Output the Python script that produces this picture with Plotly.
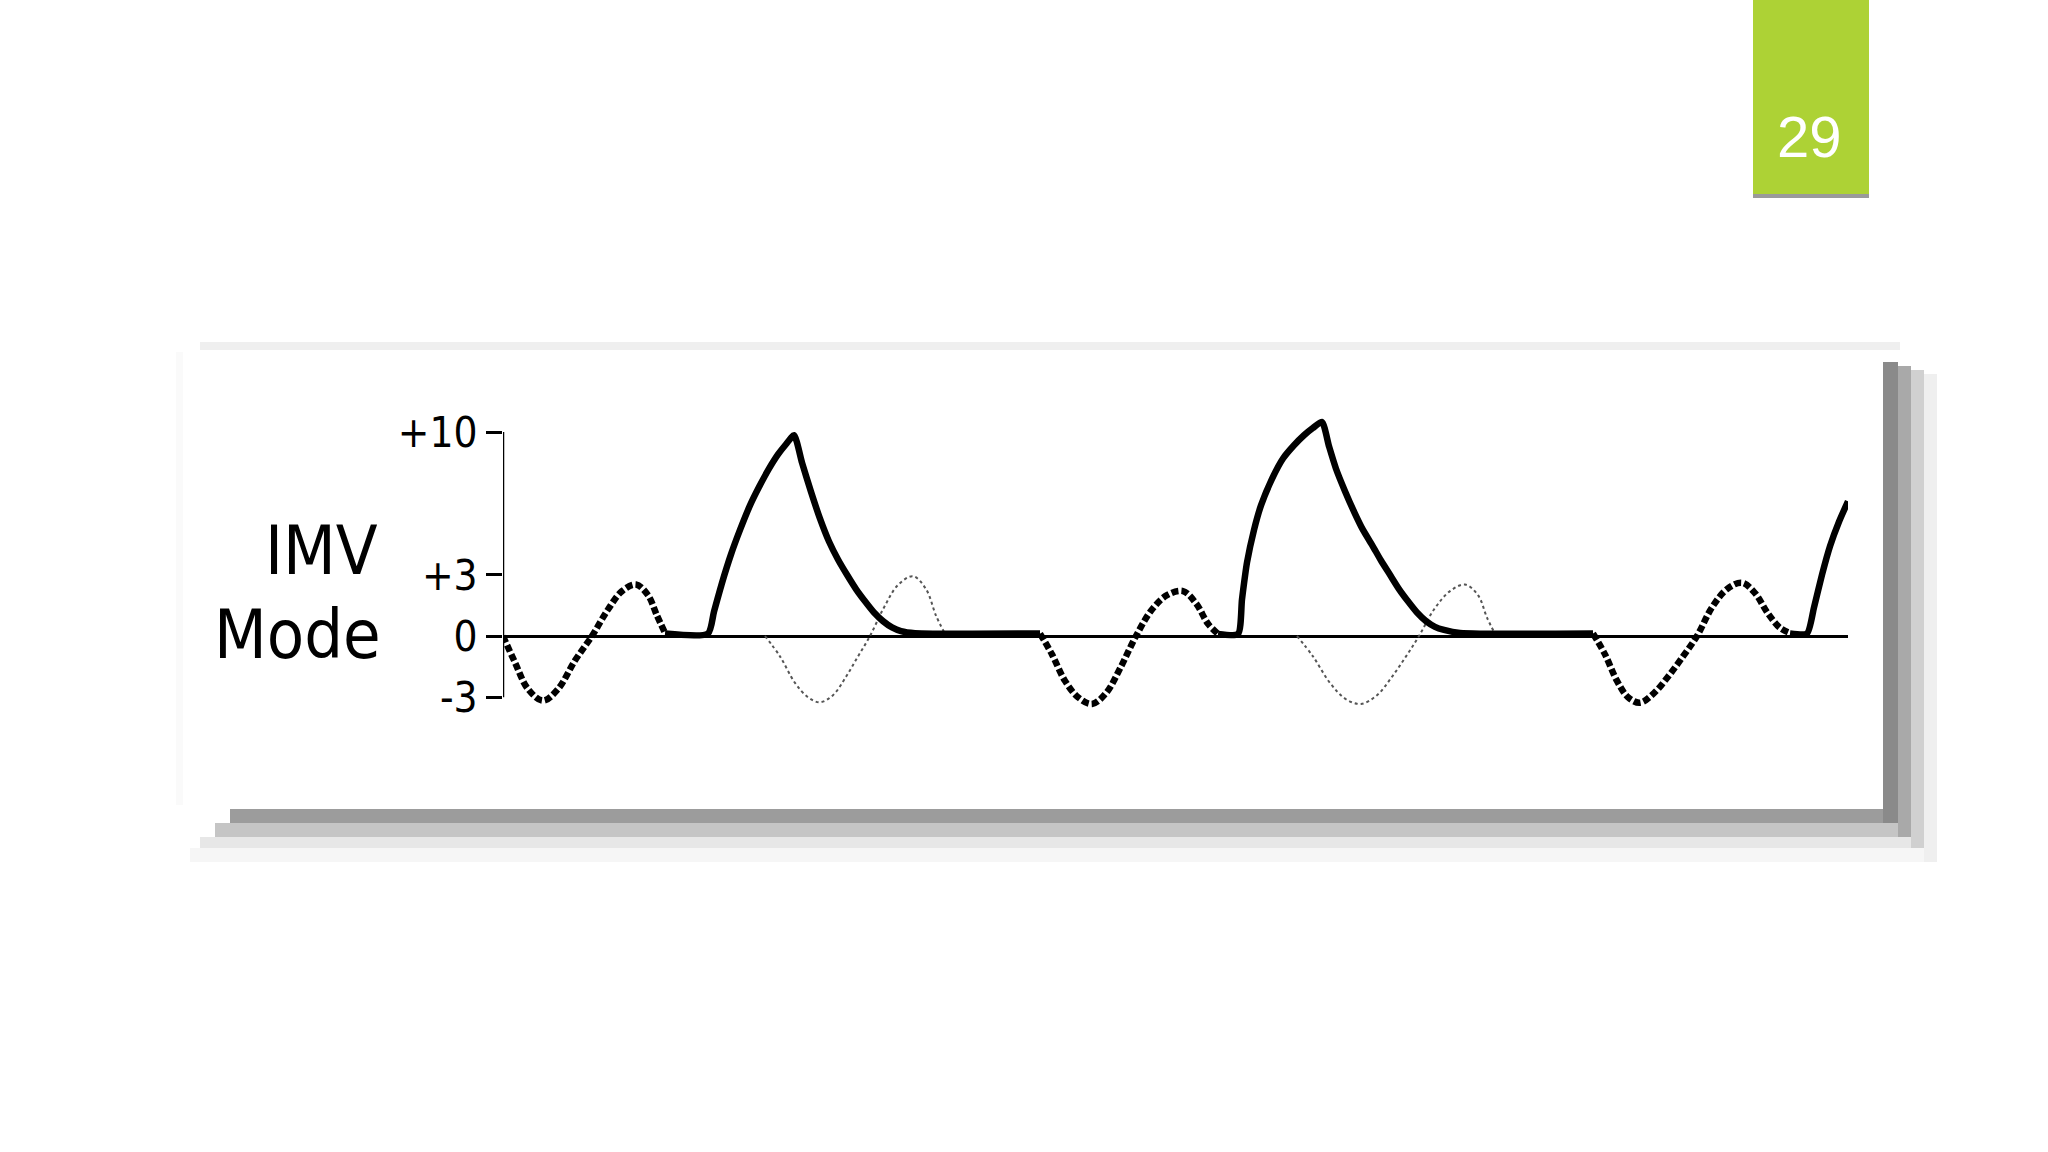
import plotly.graph_objects as go

# ---------------- data (time in s, pressure in cmH2O) ----------------
spont_t = [0.00, 0.12, 0.25, 0.40, 0.55, 0.72, 0.89, 1.05, 1.19, 1.33, 1.45, 1.54, 1.62, None,
           5.37, 5.49, 5.62, 5.75, 5.89, 6.03, 6.18, 6.33, 6.49, 6.64, 6.80, 6.93, 7.05, 7.15, None,
           10.90, 11.02, 11.14, 11.25, 11.37, 11.51, 11.65, 11.80, 11.94, 12.09, 12.24, 12.39, 12.52, 12.65, 12.77, 12.87]
spont_p = [0, -1.3, -2.6, -3.17, -2.6, -1.2, 0, 1.3, 2.2, 2.52, 2.0, 1.0, 0.15, None,
           0.12, -0.9, -2.2, -3.0, -3.33, -2.8, -1.5, 0, 1.3, 2.0, 2.2, 1.6, 0.6, 0.1, None,
           0.12, -0.9, -2.2, -3.0, -3.27, -2.8, -2.0, -1.0, 0, 1.4, 2.3, 2.61, 2.1, 1.1, 0.4, 0.15]

hidden_t = [2.62, 2.77, 2.92, 3.05, 3.17, 3.30, 3.43, 3.55, 3.67, 3.81, 3.95, 4.10, 4.23, 4.33, 4.41, None,
            7.94, 8.10, 8.27, 8.43, 8.58, 8.74, 8.89, 9.03, 9.16, 9.31, 9.47, 9.62, 9.75, 9.84, 9.91]
hidden_p = [0, -1.0, -2.3, -3.0, -3.25, -2.9, -2.0, -1.0, 0, 1.4, 2.5, 2.93, 2.3, 1.0, 0.2, None,
            0, -1.0, -2.3, -3.1, -3.33, -2.9, -2.0, -1.0, 0, 1.3, 2.2, 2.52, 2.0, 0.9, 0.2]

mand_t = [1.62, 2.05, 2.11, 2.19, 2.28, 2.37, 2.47, 2.56, 2.66, 2.75, 2.83, 2.91, 2.99, 3.08, 3.17, 3.26,
          3.35, 3.44, 3.53, 3.62, 3.71, 3.80, 3.89, 3.98, 4.12, 5.30, 5.37, None,
          7.15, 7.35, 7.39, 7.44, 7.51, 7.58, 7.69, 7.80, 7.91, 8.01, 8.10, 8.19, 8.26, 8.33, 8.42, 8.51,
          8.60, 8.69, 8.78, 8.87, 8.96, 9.05, 9.14, 9.23, 9.32, 9.41, 9.57, 10.90, None,
          12.87, 13.04, 13.11, 13.19, 13.27, 13.36, 13.45]
mand_p = [0.12, 0.12, 1.2, 2.6, 4.0, 5.2, 6.4, 7.3, 8.2, 8.9, 9.4, 9.84, 8.5, 7.07, 5.75, 4.63,
          3.75, 3.0, 2.3, 1.7, 1.15, 0.73, 0.42, 0.24, 0.14, 0.12, 0.12, None,
          0.1, 0.1, 1.8, 3.6, 5.2, 6.4, 7.7, 8.7, 9.35, 9.84, 10.2, 10.49, 9.3, 8.2, 7.1, 6.1,
          5.2, 4.47, 3.7, 3.0, 2.3, 1.7, 1.15, 0.73, 0.45, 0.3, 0.15, 0.12, None,
          0.12, 0.12, 1.4, 3.0, 4.4, 5.6, 6.6]

tick_vals = [-3, 0, 3, 10]
tick_text = ["-3", "0", "+3", "+10"]
mode_label = ["IMV", "Mode"]
slide_number = "29"

# ---------------- layout geometry (pixels) ----------------
W, H = 2048, 1152
L, R, T, B = 503, 1848, 400, 760


def px(x):
    return (x - L) / (R - L)


def py(y):
    return (B - y) / (B - T)


fig = go.Figure()

fig.add_trace(go.Scatter(x=hidden_t, y=hidden_p, mode="lines", line_shape="spline",
                         line=dict(color="#555555", width=2, dash="3px,3px"),
                         hoverinfo="skip", showlegend=False, cliponaxis=False))
fig.add_trace(go.Scatter(x=spont_t, y=spont_p, mode="lines", line_shape="spline",
                         line=dict(color="black", width=6.5, dash="7px,3px"),
                         hoverinfo="skip", showlegend=False, cliponaxis=False))
fig.add_trace(go.Scatter(x=mand_t, y=mand_p, mode="lines", line_shape="spline",
                         line=dict(color="black", width=6.5, smoothing=0.6),
                         hoverinfo="skip", showlegend=False, cliponaxis=False))

shapes = []


def prect(x0, x1, y0, y1, color, layer="below"):
    shapes.append(dict(type="rect", xref="paper", yref="paper",
                       x0=px(x0), x1=px(x1), y0=py(y1), y1=py(y0),
                       fillcolor=color, line=dict(width=0), layer=layer))


# panel frame + shadow
prect(200, 1900, 342, 350, "#efefef")
prect(176, 183, 352, 805, "#fafafa")
prect(190, 1937, 848, 862, "#f6f6f6")
prect(200, 1924, 837, 848, "#e7e7e7")
prect(215, 1911, 823, 837, "#c5c5c5")
prect(230, 1898, 809, 823, "#9c9c9c")
prect(1924, 1937, 374, 862, "#efefef")
prect(1911, 1924, 370, 848, "#d0d0d0")
prect(1898, 1911, 366, 837, "#a9a9a9")
prect(1883, 1898, 362, 823, "#8a8a8a")
prect(183, 1883, 350, 809, "#ffffff")

# slide number tab
prect(1753, 1869, 193, 198, "#9a9a9a")
prect(1753, 1869, -2, 194, "#add235")

# y axis spine
shapes.append(dict(type="line", xref="x", yref="y", x0=0, x1=0, y0=-3, y1=10,
                   line=dict(color="black", width=2.5), layer="above"))

label_font = dict(family="Liberation Sans Narrow, DejaVu Sans Condensed, Liberation Sans, Arial",
                  size=68, color="black")
annotations = [
    dict(text=mode_label[0], xref="paper", yref="paper", x=px(380), y=py(550),
         xanchor="right", yanchor="middle", showarrow=False, font=label_font),
    dict(text=mode_label[1], xref="paper", yref="paper", x=px(383), y=py(634),
         xanchor="right", yanchor="middle", showarrow=False, font=label_font),
    dict(text=slide_number, xref="paper", yref="paper", x=px(1809), y=py(136),
         xanchor="center", yanchor="middle", showarrow=False,
         font=dict(family="Liberation Sans, Arial", size=58, color="white")),
]

fig.update_layout(
    width=W, height=H,
    margin=dict(l=L, r=W - R, t=T, b=H - B, pad=0),
    paper_bgcolor="white", plot_bgcolor="rgba(0,0,0,0)",
    showlegend=False,
    shapes=shapes, annotations=annotations,
    xaxis=dict(range=[0, (R - L) / 100], visible=False, fixedrange=True),
    yaxis=dict(range=[-(B - 636) / 20.4, (636 - T) / 20.4],
               tickvals=tick_vals, ticktext=tick_text,
               ticks="outside", ticklen=16, tickwidth=2.5, tickcolor="black",
               tickfont=dict(family="Liberation Sans Narrow, DejaVu Sans Condensed, Liberation Sans, Arial",
                             size=42, color="black"),
               showline=False, showgrid=False,
               zeroline=True, zerolinecolor="black", zerolinewidth=2.5,
               fixedrange=True),
)

fig.write_html("out.html", config={"displayModeBar": False},
               post_script="document.body.style.margin='0px';")
